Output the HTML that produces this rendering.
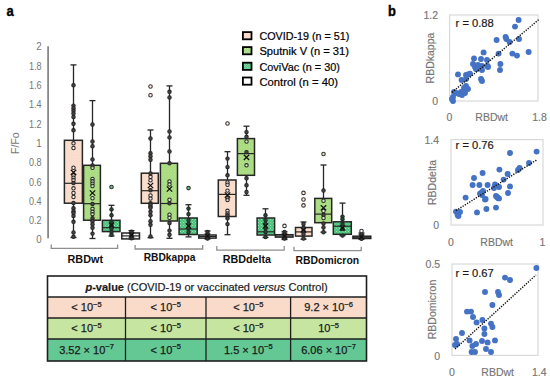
<!DOCTYPE html><html><head><meta charset="utf-8"><style>html,body{margin:0;padding:0;background:#fff;width:550px;height:382px;overflow:hidden}svg{display:block}.h{stroke:currentColor;stroke-width:0.22px}</style></head><body>
<svg width="550" height="382" viewBox="0 0 550 382" font-family='"Liberation Sans", sans-serif'>
<defs>
<pattern id="pc" width="3" height="3" patternUnits="userSpaceOnUse"><rect width="3" height="3" fill="#F9DBC9"/><rect x="0" y="0" width="1" height="1" fill="#FAE2D3"/><rect x="1.5" y="1.5" width="1" height="1" fill="#FAE2D3"/></pattern>
<pattern id="ps" width="3" height="3" patternUnits="userSpaceOnUse"><rect width="3" height="3" fill="#A8DA7E"/><rect x="0" y="0" width="1" height="1" fill="#B8E296"/><rect x="1.5" y="1.5" width="1" height="1" fill="#B8E296"/></pattern>
<pattern id="pv" width="3" height="3" patternUnits="userSpaceOnUse"><rect width="3" height="3" fill="#45C279"/><rect x="0" y="0" width="1" height="1" fill="#9EDFB6"/><rect x="1.5" y="1.5" width="1" height="1" fill="#9EDFB6"/></pattern>
<pattern id="pw" width="3" height="3" patternUnits="userSpaceOnUse"><rect width="3" height="3" fill="#FFFFFF"/><rect x="0" y="0" width="1" height="1" fill="#E0E0E0"/><rect x="1.5" y="1.5" width="1" height="1" fill="#E0E0E0"/></pattern>
<pattern id="Lpc" width="2.4" height="2.4" patternUnits="userSpaceOnUse"><rect width="2.4" height="2.4" fill="#F6CDB3"/><rect x="0" y="0" width="1.2" height="1.2" fill="#FBE9DE"/><rect x="1.2" y="1.2" width="1.2" height="1.2" fill="#FBE9DE"/></pattern>
<pattern id="Lps" width="2.4" height="2.4" patternUnits="userSpaceOnUse"><rect width="2.4" height="2.4" fill="#8CCB5E"/><rect x="0" y="0" width="1.2" height="1.2" fill="#D2EDB9"/><rect x="1.2" y="1.2" width="1.2" height="1.2" fill="#D2EDB9"/></pattern>
<pattern id="Lpv" width="2.4" height="2.4" patternUnits="userSpaceOnUse"><rect width="2.4" height="2.4" fill="#2FB563"/><rect x="0" y="0" width="1.2" height="1.2" fill="#A9E6C0"/><rect x="1.2" y="1.2" width="1.2" height="1.2" fill="#A9E6C0"/></pattern>
<pattern id="Lpw" width="2.4" height="2.4" patternUnits="userSpaceOnUse"><rect width="2.4" height="2.4" fill="#FFFFFF"/><rect x="0" y="0" width="1.2" height="1.2" fill="#FFFFFF"/><rect x="1.2" y="1.2" width="1.2" height="1.2" fill="#FFFFFF"/></pattern>
</defs>
<rect width="550" height="382" fill="#fff"/>
<text transform="translate(6.6,15.7) scale(0.84,1)" font-size="15.5" font-weight="bold" fill="#000" stroke="#000" stroke-width="0.4">a</text>
<text transform="translate(388.0,15.6) scale(0.92,1)" font-size="14" font-weight="bold" fill="#000" stroke="#000" stroke-width="0.4">b</text>
<line x1="48.1" y1="46.2" x2="48.1" y2="238.3" stroke="#888" stroke-width="1.8"/>
<text x="41.6" y="243.4" font-size="10.2" fill="#767676" text-anchor="end" textLength="5.4" lengthAdjust="spacingAndGlyphs">0</text>
<text x="41.6" y="224.1" font-size="10.2" fill="#767676" text-anchor="end" textLength="12.6" lengthAdjust="spacingAndGlyphs">0.2</text>
<text x="41.6" y="204.8" font-size="10.2" fill="#767676" text-anchor="end" textLength="12.6" lengthAdjust="spacingAndGlyphs">0.4</text>
<text x="41.6" y="185.5" font-size="10.2" fill="#767676" text-anchor="end" textLength="12.6" lengthAdjust="spacingAndGlyphs">0.6</text>
<text x="41.6" y="166.2" font-size="10.2" fill="#767676" text-anchor="end" textLength="12.6" lengthAdjust="spacingAndGlyphs">0.8</text>
<text x="41.6" y="146.9" font-size="10.2" fill="#767676" text-anchor="end" textLength="5.4" lengthAdjust="spacingAndGlyphs">1</text>
<text x="41.6" y="127.6" font-size="10.2" fill="#767676" text-anchor="end" textLength="12.6" lengthAdjust="spacingAndGlyphs">1.2</text>
<text x="41.6" y="108.3" font-size="10.2" fill="#767676" text-anchor="end" textLength="12.6" lengthAdjust="spacingAndGlyphs">1.4</text>
<text x="41.6" y="89.0" font-size="10.2" fill="#767676" text-anchor="end" textLength="12.6" lengthAdjust="spacingAndGlyphs">1.6</text>
<text x="41.6" y="69.7" font-size="10.2" fill="#767676" text-anchor="end" textLength="12.6" lengthAdjust="spacingAndGlyphs">1.8</text>
<text x="41.6" y="50.4" font-size="10.2" fill="#767676" text-anchor="end" textLength="5.4" lengthAdjust="spacingAndGlyphs">2</text>
<text transform="translate(19.3,154) rotate(-90)" font-size="11.2" fill="#777" textLength="21.7" lengthAdjust="spacingAndGlyphs">F/Fo</text>
<line x1="73.5" y1="64.9" x2="73.5" y2="237.5" stroke="#262626" stroke-width="1.3"/>
<line x1="70.5" y1="64.9" x2="76.5" y2="64.9" stroke="#262626" stroke-width="1.3"/>
<line x1="70.5" y1="237.5" x2="76.5" y2="237.5" stroke="#262626" stroke-width="1.3"/>
<rect x="64.4" y="140.3" width="18.0" height="62.9" fill="url(#pc)" stroke="#262626" stroke-width="1.5"/>
<line x1="64.4" y1="183.3" x2="82.4" y2="183.3" stroke="#262626" stroke-width="1.2"/>
<circle cx="73.5" cy="85.3" r="1.7" fill="#4d4541" stroke="#262626" stroke-width="1.05"/>
<circle cx="73.5" cy="105.6" r="1.7" fill="#4d4541" stroke="#262626" stroke-width="1.05"/>
<circle cx="73.5" cy="108.2" r="1.7" fill="#4d4541" stroke="#262626" stroke-width="1.05"/>
<circle cx="73.5" cy="110.8" r="1.7" fill="#4d4541" stroke="#262626" stroke-width="1.05"/>
<circle cx="73.5" cy="113.4" r="1.7" fill="#4d4541" stroke="#262626" stroke-width="1.05"/>
<circle cx="73.5" cy="117" r="1.7" fill="#4d4541" stroke="#262626" stroke-width="1.05"/>
<circle cx="73.5" cy="123.8" r="1.7" fill="#4d4541" stroke="#262626" stroke-width="1.05"/>
<circle cx="73.5" cy="130.3" r="1.7" fill="#4d4541" stroke="#262626" stroke-width="1.05"/>
<circle cx="73.5" cy="143.3" r="1.7" fill="rgba(255,255,255,0.55)" stroke="#262626" stroke-width="1.05"/>
<circle cx="73.5" cy="148" r="1.7" fill="rgba(255,255,255,0.55)" stroke="#262626" stroke-width="1.05"/>
<circle cx="73.5" cy="167.7" r="1.7" fill="rgba(255,255,255,0.55)" stroke="#262626" stroke-width="1.05"/>
<circle cx="73.5" cy="175.3" r="1.7" fill="rgba(255,255,255,0.55)" stroke="#262626" stroke-width="1.05"/>
<circle cx="73.5" cy="177.7" r="1.7" fill="rgba(255,255,255,0.55)" stroke="#262626" stroke-width="1.05"/>
<circle cx="73.5" cy="180" r="1.7" fill="rgba(255,255,255,0.55)" stroke="#262626" stroke-width="1.05"/>
<circle cx="73.5" cy="183" r="1.7" fill="#4d4541" stroke="#262626" stroke-width="1.05"/>
<circle cx="73.5" cy="188.3" r="1.7" fill="rgba(255,255,255,0.55)" stroke="#262626" stroke-width="1.05"/>
<circle cx="73.5" cy="193" r="1.7" fill="rgba(255,255,255,0.55)" stroke="#262626" stroke-width="1.05"/>
<circle cx="73.5" cy="197" r="1.7" fill="rgba(255,255,255,0.55)" stroke="#262626" stroke-width="1.05"/>
<circle cx="73.5" cy="203" r="1.7" fill="#4d4541" stroke="#262626" stroke-width="1.05"/>
<circle cx="73.5" cy="208.3" r="1.7" fill="#4d4541" stroke="#262626" stroke-width="1.05"/>
<circle cx="73.5" cy="211.2" r="1.7" fill="#4d4541" stroke="#262626" stroke-width="1.05"/>
<circle cx="73.5" cy="213" r="1.7" fill="#4d4541" stroke="#262626" stroke-width="1.05"/>
<circle cx="73.5" cy="215.9" r="1.7" fill="#4d4541" stroke="#262626" stroke-width="1.05"/>
<circle cx="73.5" cy="221.8" r="1.7" fill="#4d4541" stroke="#262626" stroke-width="1.05"/>
<circle cx="73.5" cy="232.4" r="1.7" fill="#4d4541" stroke="#262626" stroke-width="1.05"/>
<circle cx="73.5" cy="236.8" r="1.7" fill="#4d4541" stroke="#262626" stroke-width="1.05"/>
<path d="M70.8 169.8L76.2 175.0M76.2 169.8L70.8 175.0" stroke="#111" stroke-width="1.3"/>
<line x1="92.5" y1="100.6" x2="92.5" y2="238.5" stroke="#262626" stroke-width="1.3"/>
<line x1="89.5" y1="100.6" x2="95.5" y2="100.6" stroke="#262626" stroke-width="1.3"/>
<line x1="89.5" y1="238.5" x2="95.5" y2="238.5" stroke="#262626" stroke-width="1.3"/>
<rect x="83.6" y="165.3" width="16.8" height="54.9" fill="url(#ps)" stroke="#262626" stroke-width="1.5"/>
<line x1="83.6" y1="203.7" x2="100.4" y2="203.7" stroke="#262626" stroke-width="1.2"/>
<circle cx="92.5" cy="124.4" r="1.7" fill="#4d4541" stroke="#262626" stroke-width="1.05"/>
<circle cx="92.5" cy="141.5" r="1.7" fill="#4d4541" stroke="#262626" stroke-width="1.05"/>
<circle cx="92.5" cy="146.2" r="1.7" fill="#4d4541" stroke="#262626" stroke-width="1.05"/>
<circle cx="92.5" cy="159.4" r="1.7" fill="#4d4541" stroke="#262626" stroke-width="1.05"/>
<circle cx="92.5" cy="165.5" r="1.7" fill="#4d4541" stroke="#262626" stroke-width="1.05"/>
<circle cx="92.5" cy="167.7" r="1.7" fill="rgba(255,255,255,0.55)" stroke="#262626" stroke-width="1.05"/>
<circle cx="92.5" cy="178.9" r="1.7" fill="rgba(255,255,255,0.55)" stroke="#262626" stroke-width="1.05"/>
<circle cx="92.5" cy="181.2" r="1.7" fill="rgba(255,255,255,0.55)" stroke="#262626" stroke-width="1.05"/>
<circle cx="92.5" cy="183.6" r="1.7" fill="rgba(255,255,255,0.55)" stroke="#262626" stroke-width="1.05"/>
<circle cx="92.5" cy="186" r="1.7" fill="rgba(255,255,255,0.55)" stroke="#262626" stroke-width="1.05"/>
<circle cx="92.5" cy="198.2" r="1.7" fill="rgba(255,255,255,0.55)" stroke="#262626" stroke-width="1.05"/>
<circle cx="92.5" cy="203.9" r="1.7" fill="#4d4541" stroke="#262626" stroke-width="1.05"/>
<circle cx="92.5" cy="208.8" r="1.7" fill="rgba(255,255,255,0.55)" stroke="#262626" stroke-width="1.05"/>
<circle cx="92.5" cy="211.8" r="1.7" fill="rgba(255,255,255,0.55)" stroke="#262626" stroke-width="1.05"/>
<circle cx="92.5" cy="214.1" r="1.7" fill="rgba(255,255,255,0.55)" stroke="#262626" stroke-width="1.05"/>
<circle cx="92.5" cy="218.3" r="1.7" fill="#4d4541" stroke="#262626" stroke-width="1.05"/>
<circle cx="92.5" cy="221.2" r="1.7" fill="#4d4541" stroke="#262626" stroke-width="1.05"/>
<circle cx="92.5" cy="224.2" r="1.7" fill="#4d4541" stroke="#262626" stroke-width="1.05"/>
<circle cx="92.5" cy="227.7" r="1.7" fill="#4d4541" stroke="#262626" stroke-width="1.05"/>
<circle cx="92.5" cy="233.6" r="1.7" fill="#4d4541" stroke="#262626" stroke-width="1.05"/>
<path d="M89.8 190.4L95.2 195.6M95.2 190.4L89.8 195.6" stroke="#111" stroke-width="1.3"/>
<line x1="111.5" y1="205.3" x2="111.5" y2="236" stroke="#262626" stroke-width="1.3"/>
<line x1="108.5" y1="205.3" x2="114.5" y2="205.3" stroke="#262626" stroke-width="1.3"/>
<line x1="108.5" y1="236" x2="114.5" y2="236" stroke="#262626" stroke-width="1.3"/>
<rect x="102.4" y="220.3" width="17.6" height="11.3" fill="url(#pv)" stroke="#262626" stroke-width="1.5"/>
<line x1="102.4" y1="227.7" x2="120" y2="227.7" stroke="#262626" stroke-width="1.2"/>
<circle cx="111.5" cy="209.4" r="1.7" fill="#1d4a30" stroke="#262626" stroke-width="1.05"/>
<circle cx="111.5" cy="215.3" r="1.7" fill="#1d4a30" stroke="#262626" stroke-width="1.05"/>
<circle cx="111.5" cy="221.8" r="1.7" fill="#1d4a30" stroke="#262626" stroke-width="1.05"/>
<circle cx="111.5" cy="225.3" r="1.7" fill="#1d4a30" stroke="#262626" stroke-width="1.05"/>
<circle cx="111.5" cy="228.5" r="1.7" fill="#1d4a30" stroke="#262626" stroke-width="1.05"/>
<circle cx="111.5" cy="231.8" r="1.7" fill="#1d4a30" stroke="#262626" stroke-width="1.05"/>
<circle cx="111.5" cy="234.7" r="1.7" fill="#1d4a30" stroke="#262626" stroke-width="1.05"/>
<path d="M108.8 222.4L114.2 227.6M114.2 222.4L108.8 227.6" stroke="#111" stroke-width="1.3"/>
<circle cx="111.5" cy="187" r="1.75" fill="#5BC98A" stroke="#3a3230" stroke-width="1.1"/>
<line x1="131.5" y1="230.6" x2="131.5" y2="238.9" stroke="#262626" stroke-width="1.3"/>
<line x1="128.5" y1="230.6" x2="134.5" y2="230.6" stroke="#262626" stroke-width="1.3"/>
<line x1="128.5" y1="238.9" x2="134.5" y2="238.9" stroke="#262626" stroke-width="1.3"/>
<rect x="121.8" y="233" width="17.7" height="5.9" fill="url(#pw)" stroke="#262626" stroke-width="1.5"/>
<line x1="121.8" y1="235.9" x2="139.5" y2="235.9" stroke="#262626" stroke-width="1.2"/>
<circle cx="131.5" cy="231.6" r="1.7" fill="#333" stroke="#262626" stroke-width="1.05"/>
<circle cx="131.5" cy="235" r="1.7" fill="#333" stroke="#262626" stroke-width="1.05"/>
<circle cx="131.5" cy="238.3" r="1.7" fill="#333" stroke="#262626" stroke-width="1.05"/>
<path d="M128.8 232.4L134.2 237.6M134.2 232.4L128.8 237.6" stroke="#111" stroke-width="1.3"/>
<line x1="150.5" y1="130" x2="150.5" y2="237.7" stroke="#262626" stroke-width="1.3"/>
<line x1="147.5" y1="130" x2="153.5" y2="130" stroke="#262626" stroke-width="1.3"/>
<line x1="147.5" y1="237.7" x2="153.5" y2="237.7" stroke="#262626" stroke-width="1.3"/>
<rect x="141.3" y="173.2" width="17.0" height="30.1" fill="url(#pc)" stroke="#262626" stroke-width="1.5"/>
<line x1="141.3" y1="190.7" x2="158.3" y2="190.7" stroke="#262626" stroke-width="1.2"/>
<circle cx="150.5" cy="138.5" r="1.7" fill="#4d4541" stroke="#262626" stroke-width="1.05"/>
<circle cx="150.5" cy="153.3" r="1.7" fill="#4d4541" stroke="#262626" stroke-width="1.05"/>
<circle cx="150.5" cy="156.2" r="1.7" fill="#4d4541" stroke="#262626" stroke-width="1.05"/>
<circle cx="150.5" cy="159.7" r="1.7" fill="#4d4541" stroke="#262626" stroke-width="1.05"/>
<circle cx="150.5" cy="173.5" r="1.7" fill="#4d4541" stroke="#262626" stroke-width="1.05"/>
<circle cx="150.5" cy="176.8" r="1.7" fill="rgba(255,255,255,0.55)" stroke="#262626" stroke-width="1.05"/>
<circle cx="150.5" cy="180.3" r="1.7" fill="rgba(255,255,255,0.55)" stroke="#262626" stroke-width="1.05"/>
<circle cx="150.5" cy="190.3" r="1.7" fill="#4d4541" stroke="#262626" stroke-width="1.05"/>
<circle cx="150.5" cy="195.4" r="1.7" fill="rgba(255,255,255,0.55)" stroke="#262626" stroke-width="1.05"/>
<circle cx="150.5" cy="198.6" r="1.7" fill="rgba(255,255,255,0.55)" stroke="#262626" stroke-width="1.05"/>
<circle cx="150.5" cy="203.3" r="1.7" fill="#4d4541" stroke="#262626" stroke-width="1.05"/>
<circle cx="150.5" cy="206.8" r="1.7" fill="#4d4541" stroke="#262626" stroke-width="1.05"/>
<circle cx="150.5" cy="204.7" r="1.7" fill="#4d4541" stroke="#262626" stroke-width="1.05"/>
<circle cx="150.5" cy="207.7" r="1.7" fill="#4d4541" stroke="#262626" stroke-width="1.05"/>
<circle cx="150.5" cy="211.8" r="1.7" fill="#4d4541" stroke="#262626" stroke-width="1.05"/>
<circle cx="150.5" cy="215.3" r="1.7" fill="#4d4541" stroke="#262626" stroke-width="1.05"/>
<circle cx="150.5" cy="221.2" r="1.7" fill="#4d4541" stroke="#262626" stroke-width="1.05"/>
<circle cx="150.5" cy="224.7" r="1.7" fill="#4d4541" stroke="#262626" stroke-width="1.05"/>
<circle cx="150.5" cy="236.4" r="1.7" fill="#4d4541" stroke="#262626" stroke-width="1.05"/>
<path d="M147.8 182.9L153.2 188.1M153.2 182.9L147.8 188.1" stroke="#111" stroke-width="1.3"/>
<circle cx="150.5" cy="86.5" r="1.75" fill="#FFF4EE" stroke="#3a3230" stroke-width="1.1"/>
<circle cx="150.5" cy="95.3" r="1.75" fill="#FFF4EE" stroke="#3a3230" stroke-width="1.1"/>
<line x1="169.5" y1="85.9" x2="169.5" y2="238.3" stroke="#262626" stroke-width="1.3"/>
<line x1="166.5" y1="85.9" x2="172.5" y2="85.9" stroke="#262626" stroke-width="1.3"/>
<line x1="166.5" y1="238.3" x2="172.5" y2="238.3" stroke="#262626" stroke-width="1.3"/>
<rect x="160.4" y="163.3" width="17.1" height="57.7" fill="url(#ps)" stroke="#262626" stroke-width="1.5"/>
<line x1="160.4" y1="203.5" x2="177.5" y2="203.5" stroke="#262626" stroke-width="1.2"/>
<circle cx="169.5" cy="91.8" r="1.7" fill="#4d4541" stroke="#262626" stroke-width="1.05"/>
<circle cx="169.5" cy="97.4" r="1.7" fill="#4d4541" stroke="#262626" stroke-width="1.05"/>
<circle cx="169.5" cy="131.5" r="1.7" fill="#4d4541" stroke="#262626" stroke-width="1.05"/>
<circle cx="169.5" cy="137.4" r="1.7" fill="#4d4541" stroke="#262626" stroke-width="1.05"/>
<circle cx="169.5" cy="151.5" r="1.7" fill="#4d4541" stroke="#262626" stroke-width="1.05"/>
<circle cx="169.5" cy="163.3" r="1.7" fill="#4d4541" stroke="#262626" stroke-width="1.05"/>
<circle cx="169.5" cy="181.5" r="1.7" fill="rgba(255,255,255,0.55)" stroke="#262626" stroke-width="1.05"/>
<circle cx="169.5" cy="184.4" r="1.7" fill="rgba(255,255,255,0.55)" stroke="#262626" stroke-width="1.05"/>
<circle cx="169.5" cy="199.7" r="1.7" fill="rgba(255,255,255,0.55)" stroke="#262626" stroke-width="1.05"/>
<circle cx="169.5" cy="203.3" r="1.7" fill="#4d4541" stroke="#262626" stroke-width="1.05"/>
<circle cx="169.5" cy="214.7" r="1.7" fill="rgba(255,255,255,0.55)" stroke="#262626" stroke-width="1.05"/>
<circle cx="169.5" cy="217.7" r="1.7" fill="rgba(255,255,255,0.55)" stroke="#262626" stroke-width="1.05"/>
<circle cx="169.5" cy="223" r="1.7" fill="#4d4541" stroke="#262626" stroke-width="1.05"/>
<circle cx="169.5" cy="230.6" r="1.7" fill="#4d4541" stroke="#262626" stroke-width="1.05"/>
<circle cx="169.5" cy="234.7" r="1.7" fill="#4d4541" stroke="#262626" stroke-width="1.05"/>
<path d="M166.8 186.4L172.2 191.6M172.2 186.4L166.8 191.6" stroke="#111" stroke-width="1.3"/>
<line x1="188.5" y1="204.7" x2="188.5" y2="236.9" stroke="#262626" stroke-width="1.3"/>
<line x1="185.5" y1="204.7" x2="191.5" y2="204.7" stroke="#262626" stroke-width="1.3"/>
<line x1="185.5" y1="236.9" x2="191.5" y2="236.9" stroke="#262626" stroke-width="1.3"/>
<rect x="179.1" y="218" width="18.1" height="16.5" fill="url(#pv)" stroke="#262626" stroke-width="1.5"/>
<line x1="179.1" y1="229" x2="197.2" y2="229" stroke="#262626" stroke-width="1.2"/>
<circle cx="188.5" cy="208.6" r="1.7" fill="#1d4a30" stroke="#262626" stroke-width="1.05"/>
<circle cx="188.5" cy="214.1" r="1.7" fill="#1d4a30" stroke="#262626" stroke-width="1.05"/>
<circle cx="188.5" cy="220" r="1.7" fill="#1d4a30" stroke="#262626" stroke-width="1.05"/>
<circle cx="188.5" cy="224" r="1.7" fill="#1d4a30" stroke="#262626" stroke-width="1.05"/>
<circle cx="188.5" cy="228" r="1.7" fill="#1d4a30" stroke="#262626" stroke-width="1.05"/>
<circle cx="188.5" cy="232" r="1.7" fill="#1d4a30" stroke="#262626" stroke-width="1.05"/>
<path d="M185.8 223.4L191.2 228.6M191.2 223.4L185.8 228.6" stroke="#111" stroke-width="1.3"/>
<circle cx="188.5" cy="188.1" r="1.75" fill="#5BC98A" stroke="#3a3230" stroke-width="1.1"/>
<line x1="207.5" y1="231" x2="207.5" y2="239" stroke="#262626" stroke-width="1.3"/>
<line x1="204.5" y1="231" x2="210.5" y2="231" stroke="#262626" stroke-width="1.3"/>
<line x1="204.5" y1="239" x2="210.5" y2="239" stroke="#262626" stroke-width="1.3"/>
<rect x="198.8" y="235" width="17.3" height="3.1" fill="url(#pw)" stroke="#262626" stroke-width="1.5"/>
<line x1="198.8" y1="236.5" x2="216.1" y2="236.5" stroke="#262626" stroke-width="1.2"/>
<circle cx="207.5" cy="232" r="1.7" fill="#333" stroke="#262626" stroke-width="1.05"/>
<circle cx="207.5" cy="235.5" r="1.7" fill="#333" stroke="#262626" stroke-width="1.05"/>
<circle cx="207.5" cy="238.5" r="1.7" fill="#333" stroke="#262626" stroke-width="1.05"/>
<path d="M204.8 233.4L210.2 238.6M210.2 233.4L204.8 238.6" stroke="#111" stroke-width="1.3"/>
<line x1="227.5" y1="151.7" x2="227.5" y2="234.7" stroke="#262626" stroke-width="1.3"/>
<line x1="224.5" y1="151.7" x2="230.5" y2="151.7" stroke="#262626" stroke-width="1.3"/>
<line x1="224.5" y1="234.7" x2="230.5" y2="234.7" stroke="#262626" stroke-width="1.3"/>
<rect x="218.3" y="180" width="17.7" height="36.5" fill="url(#pc)" stroke="#262626" stroke-width="1.5"/>
<line x1="218.3" y1="194.4" x2="236" y2="194.4" stroke="#262626" stroke-width="1.2"/>
<circle cx="227.5" cy="158.6" r="1.7" fill="#4d4541" stroke="#262626" stroke-width="1.05"/>
<circle cx="227.5" cy="167.1" r="1.7" fill="#4d4541" stroke="#262626" stroke-width="1.05"/>
<circle cx="227.5" cy="175.3" r="1.7" fill="#4d4541" stroke="#262626" stroke-width="1.05"/>
<circle cx="227.5" cy="182.4" r="1.7" fill="rgba(255,255,255,0.55)" stroke="#262626" stroke-width="1.05"/>
<circle cx="227.5" cy="184.7" r="1.7" fill="rgba(255,255,255,0.55)" stroke="#262626" stroke-width="1.05"/>
<circle cx="227.5" cy="190.6" r="1.7" fill="rgba(255,255,255,0.55)" stroke="#262626" stroke-width="1.05"/>
<circle cx="227.5" cy="198.3" r="1.7" fill="rgba(255,255,255,0.55)" stroke="#262626" stroke-width="1.05"/>
<circle cx="227.5" cy="200" r="1.7" fill="rgba(255,255,255,0.55)" stroke="#262626" stroke-width="1.05"/>
<circle cx="227.5" cy="210.8" r="1.7" fill="rgba(255,255,255,0.55)" stroke="#262626" stroke-width="1.05"/>
<circle cx="227.5" cy="213.5" r="1.7" fill="rgba(255,255,255,0.55)" stroke="#262626" stroke-width="1.05"/>
<circle cx="227.5" cy="215.3" r="1.7" fill="#4d4541" stroke="#262626" stroke-width="1.05"/>
<circle cx="227.5" cy="218.3" r="1.7" fill="#4d4541" stroke="#262626" stroke-width="1.05"/>
<circle cx="227.5" cy="224.1" r="1.7" fill="#4d4541" stroke="#262626" stroke-width="1.05"/>
<path d="M224.8 192.4L230.2 197.6M230.2 192.4L224.8 197.6" stroke="#111" stroke-width="1.3"/>
<circle cx="227.5" cy="123.5" r="1.75" fill="#FFF4EE" stroke="#3a3230" stroke-width="1.1"/>
<line x1="246.5" y1="126.2" x2="246.5" y2="195.3" stroke="#262626" stroke-width="1.3"/>
<line x1="243.5" y1="126.2" x2="249.5" y2="126.2" stroke="#262626" stroke-width="1.3"/>
<line x1="243.5" y1="195.3" x2="249.5" y2="195.3" stroke="#262626" stroke-width="1.3"/>
<rect x="237.4" y="138.6" width="17.1" height="36.7" fill="url(#ps)" stroke="#262626" stroke-width="1.5"/>
<line x1="237.4" y1="153.6" x2="254.5" y2="153.6" stroke="#262626" stroke-width="1.2"/>
<circle cx="246.5" cy="132.1" r="1.7" fill="#4d4541" stroke="#262626" stroke-width="1.05"/>
<circle cx="246.5" cy="136.8" r="1.7" fill="#4d4541" stroke="#262626" stroke-width="1.05"/>
<circle cx="246.5" cy="141.5" r="1.7" fill="rgba(255,255,255,0.55)" stroke="#262626" stroke-width="1.05"/>
<circle cx="246.5" cy="152.1" r="1.7" fill="#4d4541" stroke="#262626" stroke-width="1.05"/>
<circle cx="246.5" cy="165.3" r="1.7" fill="rgba(255,255,255,0.55)" stroke="#262626" stroke-width="1.05"/>
<circle cx="246.5" cy="178.3" r="1.7" fill="#4d4541" stroke="#262626" stroke-width="1.05"/>
<circle cx="246.5" cy="185.3" r="1.7" fill="#4d4541" stroke="#262626" stroke-width="1.05"/>
<circle cx="246.5" cy="192" r="1.7" fill="#4d4541" stroke="#262626" stroke-width="1.05"/>
<path d="M243.8 154.8L249.2 160.0M249.2 154.8L243.8 160.0" stroke="#111" stroke-width="1.3"/>
<line x1="265.5" y1="208.8" x2="265.5" y2="237.5" stroke="#262626" stroke-width="1.3"/>
<line x1="262.5" y1="208.8" x2="268.5" y2="208.8" stroke="#262626" stroke-width="1.3"/>
<line x1="262.5" y1="237.5" x2="268.5" y2="237.5" stroke="#262626" stroke-width="1.3"/>
<rect x="257.1" y="218" width="17.5" height="17.0" fill="url(#pv)" stroke="#262626" stroke-width="1.5"/>
<line x1="257.1" y1="231.8" x2="274.6" y2="231.8" stroke="#262626" stroke-width="1.2"/>
<circle cx="265.5" cy="215.3" r="1.7" fill="#1d4a30" stroke="#262626" stroke-width="1.05"/>
<circle cx="265.5" cy="220" r="1.7" fill="#1d4a30" stroke="#262626" stroke-width="1.05"/>
<circle cx="265.5" cy="224" r="1.7" fill="#1d4a30" stroke="#262626" stroke-width="1.05"/>
<circle cx="265.5" cy="228" r="1.7" fill="#1d4a30" stroke="#262626" stroke-width="1.05"/>
<circle cx="265.5" cy="232" r="1.7" fill="#1d4a30" stroke="#262626" stroke-width="1.05"/>
<circle cx="265.5" cy="237" r="1.7" fill="#1d4a30" stroke="#262626" stroke-width="1.05"/>
<path d="M262.8 223.4L268.2 228.6M268.2 223.4L262.8 228.6" stroke="#111" stroke-width="1.3"/>
<line x1="284.5" y1="231.8" x2="284.5" y2="239.5" stroke="#262626" stroke-width="1.3"/>
<line x1="281.5" y1="231.8" x2="287.5" y2="231.8" stroke="#262626" stroke-width="1.3"/>
<line x1="281.5" y1="239.5" x2="287.5" y2="239.5" stroke="#262626" stroke-width="1.3"/>
<rect x="275.4" y="234.7" width="17.6" height="2.4" fill="url(#pw)" stroke="#262626" stroke-width="1.5"/>
<line x1="275.4" y1="236" x2="293" y2="236" stroke="#262626" stroke-width="1.2"/>
<circle cx="284.5" cy="232" r="1.7" fill="#333" stroke="#262626" stroke-width="1.05"/>
<circle cx="284.5" cy="235" r="1.7" fill="#333" stroke="#262626" stroke-width="1.05"/>
<circle cx="284.5" cy="238.5" r="1.7" fill="#333" stroke="#262626" stroke-width="1.05"/>
<path d="M281.8 233.4L287.2 238.6M287.2 233.4L281.8 238.6" stroke="#111" stroke-width="1.3"/>
<circle cx="284.5" cy="225.9" r="1.75" fill="#fff" stroke="#3a3230" stroke-width="1.1"/>
<line x1="303.5" y1="222" x2="303.5" y2="239.2" stroke="#262626" stroke-width="1.3"/>
<line x1="300.5" y1="222" x2="306.5" y2="222" stroke="#262626" stroke-width="1.3"/>
<line x1="300.5" y1="239.2" x2="306.5" y2="239.2" stroke="#262626" stroke-width="1.3"/>
<rect x="295.5" y="227.5" width="16.5" height="8.6" fill="url(#pc)" stroke="#262626" stroke-width="1.5"/>
<line x1="295.5" y1="231.9" x2="312" y2="231.9" stroke="#262626" stroke-width="1.2"/>
<circle cx="303.5" cy="224" r="1.7" fill="#4d4541" stroke="#262626" stroke-width="1.05"/>
<circle cx="303.5" cy="228" r="1.7" fill="#4d4541" stroke="#262626" stroke-width="1.05"/>
<circle cx="303.5" cy="231" r="1.7" fill="#4d4541" stroke="#262626" stroke-width="1.05"/>
<circle cx="303.5" cy="234" r="1.7" fill="#4d4541" stroke="#262626" stroke-width="1.05"/>
<circle cx="303.5" cy="238.5" r="1.7" fill="#4d4541" stroke="#262626" stroke-width="1.05"/>
<path d="M300.8 227.4L306.2 232.6M306.2 227.4L300.8 232.6" stroke="#111" stroke-width="1.3"/>
<circle cx="303.5" cy="192.9" r="1.75" fill="#FFF4EE" stroke="#3a3230" stroke-width="1.1"/>
<circle cx="303.5" cy="199.5" r="1.75" fill="#FFF4EE" stroke="#3a3230" stroke-width="1.1"/>
<circle cx="303.5" cy="205.4" r="1.75" fill="#FFF4EE" stroke="#3a3230" stroke-width="1.1"/>
<line x1="323.5" y1="165" x2="323.5" y2="232.2" stroke="#262626" stroke-width="1.3"/>
<line x1="320.5" y1="165" x2="326.5" y2="165" stroke="#262626" stroke-width="1.3"/>
<line x1="320.5" y1="232.2" x2="326.5" y2="232.2" stroke="#262626" stroke-width="1.3"/>
<rect x="314.8" y="198.4" width="16.9" height="24.3" fill="url(#ps)" stroke="#262626" stroke-width="1.5"/>
<line x1="314.8" y1="214.1" x2="331.7" y2="214.1" stroke="#262626" stroke-width="1.2"/>
<circle cx="323.5" cy="190.5" r="1.7" fill="#4d4541" stroke="#262626" stroke-width="1.05"/>
<circle cx="323.5" cy="200.7" r="1.7" fill="rgba(255,255,255,0.55)" stroke="#262626" stroke-width="1.05"/>
<circle cx="323.5" cy="211" r="1.7" fill="rgba(255,255,255,0.55)" stroke="#262626" stroke-width="1.05"/>
<circle cx="323.5" cy="214.9" r="1.7" fill="#4d4541" stroke="#262626" stroke-width="1.05"/>
<circle cx="323.5" cy="218" r="1.7" fill="rgba(255,255,255,0.55)" stroke="#262626" stroke-width="1.05"/>
<circle cx="323.5" cy="223.5" r="1.7" fill="#4d4541" stroke="#262626" stroke-width="1.05"/>
<circle cx="323.5" cy="227.5" r="1.7" fill="#4d4541" stroke="#262626" stroke-width="1.05"/>
<circle cx="323.5" cy="232.2" r="1.7" fill="#4d4541" stroke="#262626" stroke-width="1.05"/>
<path d="M320.8 205.2L326.2 210.4M326.2 205.2L320.8 210.4" stroke="#111" stroke-width="1.3"/>
<circle cx="323.5" cy="154" r="1.75" fill="#D2EDB5" stroke="#3a3230" stroke-width="1.1"/>
<line x1="342.5" y1="203.1" x2="342.5" y2="235.6" stroke="#262626" stroke-width="1.3"/>
<line x1="339.5" y1="203.1" x2="345.5" y2="203.1" stroke="#262626" stroke-width="1.3"/>
<line x1="339.5" y1="235.6" x2="345.5" y2="235.6" stroke="#262626" stroke-width="1.3"/>
<rect x="333.3" y="221.8" width="18.0" height="12.5" fill="url(#pv)" stroke="#262626" stroke-width="1.5"/>
<line x1="333.3" y1="226.2" x2="351.3" y2="226.2" stroke="#262626" stroke-width="1.2"/>
<circle cx="342.5" cy="216.6" r="1.7" fill="#1d4a30" stroke="#262626" stroke-width="1.05"/>
<circle cx="342.5" cy="219.2" r="1.7" fill="#1d4a30" stroke="#262626" stroke-width="1.05"/>
<circle cx="342.5" cy="224" r="1.7" fill="#1d4a30" stroke="#262626" stroke-width="1.05"/>
<circle cx="342.5" cy="229" r="1.7" fill="#1d4a30" stroke="#262626" stroke-width="1.05"/>
<circle cx="342.5" cy="235.6" r="1.7" fill="#1d4a30" stroke="#262626" stroke-width="1.05"/>
<path d="M339.8 225.4L345.2 230.6M345.2 225.4L339.8 230.6" stroke="#111" stroke-width="1.3"/>
<line x1="361.5" y1="233" x2="361.5" y2="238.8" stroke="#262626" stroke-width="1.3"/>
<line x1="358.5" y1="233" x2="364.5" y2="233" stroke="#262626" stroke-width="1.3"/>
<line x1="358.5" y1="238.8" x2="364.5" y2="238.8" stroke="#262626" stroke-width="1.3"/>
<rect x="352.9" y="236.2" width="17.9" height="2.3" fill="url(#pw)" stroke="#262626" stroke-width="1.5"/>
<line x1="352.9" y1="237.3" x2="370.8" y2="237.3" stroke="#262626" stroke-width="1.2"/>
<circle cx="361.5" cy="234" r="1.7" fill="#333" stroke="#262626" stroke-width="1.05"/>
<circle cx="361.5" cy="238.8" r="1.7" fill="#333" stroke="#262626" stroke-width="1.05"/>
<path d="M358.8 234.4L364.2 239.6M364.2 234.4L358.8 239.6" stroke="#111" stroke-width="1.3"/>
<circle cx="361.5" cy="231" r="1.75" fill="#fff" stroke="#3a3230" stroke-width="1.1"/>
<path d="M51.2 244.4V248.3H117.6V244.4" fill="none" stroke="#8f8f8f" stroke-width="1.3"/>
<path d="M135.1 244.9V249H202.7V244.9" fill="none" stroke="#8f8f8f" stroke-width="1.3"/>
<path d="M216.8 246V250.1H284.2V246" fill="none" stroke="#8f8f8f" stroke-width="1.3"/>
<path d="M294 246.7V250.6H361.2V246.7" fill="none" stroke="#8f8f8f" stroke-width="1.3"/>
<text x="67.5" y="262.8" font-size="11" font-weight="bold" fill="#111" textLength="35.5" lengthAdjust="spacingAndGlyphs">RBDwt</text>
<text x="143.7" y="261.3" font-size="11" font-weight="bold" fill="#111" textLength="51.7" lengthAdjust="spacingAndGlyphs">RBDkappa</text>
<text x="222.7" y="263.2" font-size="11" font-weight="bold" fill="#111" textLength="48.3" lengthAdjust="spacingAndGlyphs">RBDdelta</text>
<text x="295.5" y="264" font-size="11" font-weight="bold" fill="#111" textLength="63.6" lengthAdjust="spacingAndGlyphs">RBDomicron</text>
<rect x="242.9" y="32.1" width="8.6" height="7.2" fill="url(#Lpc)" stroke="#000" stroke-width="1.8"/>
<text x="259.4" y="39.7" font-size="10.8" fill="#000" stroke="#000" stroke-width="0.2" textLength="90" lengthAdjust="spacingAndGlyphs">COVID-19 (n = 51)</text>
<rect x="242.9" y="47.1" width="8.6" height="7.2" fill="url(#Lps)" stroke="#000" stroke-width="1.8"/>
<text x="259.4" y="55.1" font-size="10.8" fill="#000" stroke="#000" stroke-width="0.2" textLength="89.6" lengthAdjust="spacingAndGlyphs">Sputnik V (n = 31)</text>
<rect x="242.9" y="62.7" width="8.6" height="7.2" fill="url(#Lpv)" stroke="#000" stroke-width="1.8"/>
<text x="259.4" y="70.5" font-size="10.8" fill="#000" stroke="#000" stroke-width="0.2" textLength="80.6" lengthAdjust="spacingAndGlyphs">CoviVac (n = 30)</text>
<rect x="242.9" y="77.5" width="8.6" height="7.2" fill="url(#Lpw)" stroke="#000" stroke-width="1.8"/>
<text x="259.4" y="85.9" font-size="10.8" fill="#000" stroke="#000" stroke-width="0.2" textLength="78.6" lengthAdjust="spacingAndGlyphs">Control (n = 40)</text>
<rect x="47.5" y="276" width="319.0" height="21" fill="#FFFFFF"/>
<rect x="47.5" y="297" width="319.0" height="21" fill="#FADBCA"/>
<rect x="47.5" y="318" width="319.0" height="21" fill="#C6E5A0"/>
<rect x="47.5" y="339" width="319.0" height="22" fill="#63C894"/>
<line x1="47.5" y1="297" x2="366.5" y2="297" stroke="#1e1e1e" stroke-width="1.3"/>
<line x1="47.5" y1="318" x2="366.5" y2="318" stroke="#1e1e1e" stroke-width="1.3"/>
<line x1="47.5" y1="339" x2="366.5" y2="339" stroke="#1e1e1e" stroke-width="1.3"/>
<line x1="125.5" y1="297" x2="125.5" y2="361" stroke="#1e1e1e" stroke-width="1.3"/>
<line x1="206" y1="297" x2="206" y2="361" stroke="#1e1e1e" stroke-width="1.3"/>
<line x1="290.6" y1="297" x2="290.6" y2="361" stroke="#1e1e1e" stroke-width="1.3"/>
<rect x="47.5" y="276" width="319.0" height="85" fill="none" stroke="#1e1e1e" stroke-width="1.6"/>
<text x="206.5" y="290.6" font-size="11" fill="#1a1a1a" stroke="#1a1a1a" stroke-width="0.2" text-anchor="middle"><tspan font-weight="bold" font-style="italic">p</tspan><tspan font-weight="bold">-value</tspan> (COVID-19 or vaccinated <tspan font-style="italic">versus</tspan> Control)</text>
<text x="86.5" y="311.4" font-size="11" fill="#1a1a1a" stroke="#1a1a1a" stroke-width="0.25" text-anchor="middle">< 10<tspan font-size="7.5" dy="-4.2">&#8722;5</tspan></text>
<text x="165.75" y="311.4" font-size="11" fill="#1a1a1a" stroke="#1a1a1a" stroke-width="0.25" text-anchor="middle">< 10<tspan font-size="7.5" dy="-4.2">&#8722;5</tspan></text>
<text x="248.3" y="311.4" font-size="11" fill="#1a1a1a" stroke="#1a1a1a" stroke-width="0.25" text-anchor="middle">< 10<tspan font-size="7.5" dy="-4.2">&#8722;5</tspan></text>
<text x="328.55" y="311.4" font-size="11" fill="#1a1a1a" stroke="#1a1a1a" stroke-width="0.25" text-anchor="middle">9.2 × 10<tspan font-size="7.5" dy="-4.2">&#8722;6</tspan></text>
<text x="86.5" y="332.4" font-size="11" fill="#1a1a1a" stroke="#1a1a1a" stroke-width="0.25" text-anchor="middle">< 10<tspan font-size="7.5" dy="-4.2">&#8722;5</tspan></text>
<text x="165.75" y="332.4" font-size="11" fill="#1a1a1a" stroke="#1a1a1a" stroke-width="0.25" text-anchor="middle">< 10<tspan font-size="7.5" dy="-4.2">&#8722;5</tspan></text>
<text x="248.3" y="332.4" font-size="11" fill="#1a1a1a" stroke="#1a1a1a" stroke-width="0.25" text-anchor="middle">< 10<tspan font-size="7.5" dy="-4.2">&#8722;5</tspan></text>
<text x="328.55" y="332.4" font-size="11" fill="#1a1a1a" stroke="#1a1a1a" stroke-width="0.25" text-anchor="middle">10<tspan font-size="7.5" dy="-4.2">&#8722;5</tspan></text>
<text x="86.5" y="353.6" font-size="11" fill="#1a1a1a" stroke="#1a1a1a" stroke-width="0.25" text-anchor="middle">3.52 × 10<tspan font-size="7.5" dy="-4.2">&#8722;7</tspan></text>
<text x="165.75" y="353.6" font-size="11" fill="#1a1a1a" stroke="#1a1a1a" stroke-width="0.25" text-anchor="middle">< 10<tspan font-size="7.5" dy="-4.2">&#8722;5</tspan></text>
<text x="248.3" y="353.6" font-size="11" fill="#1a1a1a" stroke="#1a1a1a" stroke-width="0.25" text-anchor="middle">1.5 × 10<tspan font-size="7.5" dy="-4.2">&#8722;5</tspan></text>
<text x="328.55" y="353.6" font-size="11" fill="#1a1a1a" stroke="#1a1a1a" stroke-width="0.25" text-anchor="middle">6.06 × 10<tspan font-size="7.5" dy="-4.2">&#8722;7</tspan></text>
<rect x="449.6" y="15" width="88.4" height="86.0" fill="#fff" stroke="#d9d9d9" stroke-width="1.2"/>
<text x="438" y="19.4" font-size="10.5" fill="#767676" stroke="#767676" stroke-width="0.15" text-anchor="end">1.2</text>
<text x="438" y="105" font-size="10.5" fill="#767676" stroke="#767676" stroke-width="0.15" text-anchor="end">0</text>
<text x="449.5" y="121" font-size="10.5" fill="#767676" stroke="#767676" stroke-width="0.15" text-anchor="middle">0</text>
<text x="491.7" y="121" font-size="10.5" fill="#767676" stroke="#767676" stroke-width="0.15" text-anchor="middle">RBDwt</text>
<text x="539.5" y="121" font-size="10.5" fill="#767676" stroke="#767676" stroke-width="0.15" text-anchor="middle">1.8</text>
<text transform="translate(433.8,58) rotate(-90)" font-size="10.5" fill="#767676" stroke="#767676" stroke-width="0.15" text-anchor="middle">RBDkappa</text>
<circle cx="518.6" cy="20" r="2.95" fill="#4472C4"/>
<circle cx="515" cy="26.6" r="2.95" fill="#4472C4"/>
<circle cx="496.6" cy="40" r="2.95" fill="#4472C4"/>
<circle cx="505.6" cy="37" r="2.95" fill="#4472C4"/>
<circle cx="506.4" cy="39" r="2.95" fill="#4472C4"/>
<circle cx="509.6" cy="42" r="2.95" fill="#4472C4"/>
<circle cx="519" cy="39" r="2.95" fill="#4472C4"/>
<circle cx="528.6" cy="52" r="2.95" fill="#4472C4"/>
<circle cx="512.4" cy="53.6" r="2.95" fill="#4472C4"/>
<circle cx="517" cy="55.6" r="2.95" fill="#4472C4"/>
<circle cx="483.6" cy="52.4" r="2.95" fill="#4472C4"/>
<circle cx="498.6" cy="53.6" r="2.95" fill="#4472C4"/>
<circle cx="474" cy="58.4" r="2.95" fill="#4472C4"/>
<circle cx="481" cy="59" r="2.95" fill="#4472C4"/>
<circle cx="487" cy="60" r="2.95" fill="#4472C4"/>
<circle cx="487.6" cy="66" r="2.95" fill="#4472C4"/>
<circle cx="500.4" cy="64" r="2.95" fill="#4472C4"/>
<circle cx="500" cy="70" r="2.95" fill="#4472C4"/>
<circle cx="473" cy="64" r="2.95" fill="#4472C4"/>
<circle cx="475" cy="67" r="2.95" fill="#4472C4"/>
<circle cx="477" cy="69" r="2.95" fill="#4472C4"/>
<circle cx="481" cy="68" r="2.95" fill="#4472C4"/>
<circle cx="482" cy="70" r="2.95" fill="#4472C4"/>
<circle cx="458" cy="74.4" r="2.95" fill="#4472C4"/>
<circle cx="466" cy="75" r="2.95" fill="#4472C4"/>
<circle cx="470" cy="73.6" r="2.95" fill="#4472C4"/>
<circle cx="468" cy="74.4" r="2.95" fill="#4472C4"/>
<circle cx="461.6" cy="80" r="2.95" fill="#4472C4"/>
<circle cx="466" cy="79" r="2.95" fill="#4472C4"/>
<circle cx="481" cy="79" r="2.95" fill="#4472C4"/>
<circle cx="482" cy="81" r="2.95" fill="#4472C4"/>
<circle cx="478" cy="65" r="2.95" fill="#4472C4"/>
<circle cx="476" cy="69" r="2.95" fill="#4472C4"/>
<circle cx="482" cy="66" r="2.95" fill="#4472C4"/>
<circle cx="488" cy="67" r="2.95" fill="#4472C4"/>
<circle cx="466" cy="86" r="2.95" fill="#4472C4"/>
<circle cx="464" cy="88" r="2.95" fill="#4472C4"/>
<circle cx="468" cy="89" r="2.95" fill="#4472C4"/>
<circle cx="461" cy="92" r="2.95" fill="#4472C4"/>
<circle cx="456" cy="93" r="2.95" fill="#4472C4"/>
<circle cx="454" cy="92" r="2.95" fill="#4472C4"/>
<circle cx="459" cy="94" r="2.95" fill="#4472C4"/>
<circle cx="453" cy="97" r="2.95" fill="#4472C4"/>
<circle cx="452" cy="99" r="2.95" fill="#4472C4"/>
<circle cx="453" cy="101" r="2.95" fill="#4472C4"/>
<circle cx="462" cy="95" r="2.95" fill="#4472C4"/>
<circle cx="465" cy="93" r="2.95" fill="#4472C4"/>
<line x1="452" y1="92.4" x2="538.6" y2="19.8" stroke="#111" stroke-width="1.4" stroke-dasharray="1.3 1.3"/>
<text x="455.6" y="27.4" font-size="11.2" fill="#1a1a1a" stroke="#1a1a1a" stroke-width="0.2" textLength="38.2" lengthAdjust="spacingAndGlyphs">r = 0.88</text>
<rect x="451" y="139.6" width="92.0" height="85.4" fill="#fff" stroke="#d9d9d9" stroke-width="1.2"/>
<text x="439" y="143.6" font-size="10.5" fill="#767676" stroke="#767676" stroke-width="0.15" text-anchor="end">1.4</text>
<text x="439" y="229" font-size="10.5" fill="#767676" stroke="#767676" stroke-width="0.15" text-anchor="end">0</text>
<text x="451" y="245.6" font-size="10.5" fill="#767676" stroke="#767676" stroke-width="0.15" text-anchor="middle">0</text>
<text x="496.7" y="245.6" font-size="10.5" fill="#767676" stroke="#767676" stroke-width="0.15" text-anchor="middle">RBDwt</text>
<text x="542.5" y="245.6" font-size="10.5" fill="#767676" stroke="#767676" stroke-width="0.15" text-anchor="middle">1</text>
<text transform="translate(435.8,182.5) rotate(-90)" font-size="10.5" fill="#767676" stroke="#767676" stroke-width="0.15" text-anchor="middle">RBDdelta</text>
<circle cx="510" cy="153" r="2.95" fill="#4472C4"/>
<circle cx="536.6" cy="151.6" r="2.95" fill="#4472C4"/>
<circle cx="529" cy="163" r="2.95" fill="#4472C4"/>
<circle cx="519.6" cy="168" r="2.95" fill="#4472C4"/>
<circle cx="518" cy="170" r="2.95" fill="#4472C4"/>
<circle cx="507.6" cy="174" r="2.95" fill="#4472C4"/>
<circle cx="499.4" cy="169.6" r="2.95" fill="#4472C4"/>
<circle cx="482.6" cy="173" r="2.95" fill="#4472C4"/>
<circle cx="474" cy="178" r="2.95" fill="#4472C4"/>
<circle cx="503.6" cy="179.6" r="2.95" fill="#4472C4"/>
<circle cx="472.6" cy="185" r="2.95" fill="#4472C4"/>
<circle cx="479.4" cy="185" r="2.95" fill="#4472C4"/>
<circle cx="487.6" cy="185" r="2.95" fill="#4472C4"/>
<circle cx="495" cy="184.4" r="2.95" fill="#4472C4"/>
<circle cx="499" cy="187" r="2.95" fill="#4472C4"/>
<circle cx="494" cy="188" r="2.95" fill="#4472C4"/>
<circle cx="510" cy="186.4" r="2.95" fill="#4472C4"/>
<circle cx="483" cy="191" r="2.95" fill="#4472C4"/>
<circle cx="481" cy="193" r="2.95" fill="#4472C4"/>
<circle cx="482" cy="195" r="2.95" fill="#4472C4"/>
<circle cx="508" cy="193" r="2.95" fill="#4472C4"/>
<circle cx="465.6" cy="197.6" r="2.95" fill="#4472C4"/>
<circle cx="485.6" cy="199" r="2.95" fill="#4472C4"/>
<circle cx="496" cy="196" r="2.95" fill="#4472C4"/>
<circle cx="498" cy="198" r="2.95" fill="#4472C4"/>
<circle cx="480" cy="193.6" r="2.95" fill="#4472C4"/>
<circle cx="485" cy="199.6" r="2.95" fill="#4472C4"/>
<circle cx="497" cy="197" r="2.95" fill="#4472C4"/>
<circle cx="499" cy="198.4" r="2.95" fill="#4472C4"/>
<circle cx="477" cy="212.4" r="2.95" fill="#4472C4"/>
<circle cx="486.4" cy="209" r="2.95" fill="#4472C4"/>
<circle cx="496" cy="207.6" r="2.95" fill="#4472C4"/>
<circle cx="456" cy="211.6" r="2.95" fill="#4472C4"/>
<circle cx="460" cy="212" r="2.95" fill="#4472C4"/>
<circle cx="457.6" cy="215" r="2.95" fill="#4472C4"/>
<circle cx="458.4" cy="216" r="2.95" fill="#4472C4"/>
<line x1="456" y1="210.6" x2="536.6" y2="160" stroke="#111" stroke-width="1.4" stroke-dasharray="1.3 1.3"/>
<text x="455.6" y="149.4" font-size="11.2" fill="#1a1a1a" stroke="#1a1a1a" stroke-width="0.2" textLength="38.2" lengthAdjust="spacingAndGlyphs">r = 0.76</text>
<rect x="452" y="264" width="86.0" height="91.4" fill="#fff" stroke="#d9d9d9" stroke-width="1.2"/>
<text x="440" y="267.6" font-size="10.5" fill="#767676" stroke="#767676" stroke-width="0.15" text-anchor="end">0.5</text>
<text x="440" y="359.6" font-size="10.5" fill="#767676" stroke="#767676" stroke-width="0.15" text-anchor="end">0</text>
<text x="452" y="376.4" font-size="10.5" fill="#767676" stroke="#767676" stroke-width="0.15" text-anchor="middle">0</text>
<text x="497.7" y="376.4" font-size="10.5" fill="#767676" stroke="#767676" stroke-width="0.15" text-anchor="middle">RBDwt</text>
<text x="539.3" y="376.4" font-size="10.5" fill="#767676" stroke="#767676" stroke-width="0.15" text-anchor="middle">1.4</text>
<text transform="translate(436.3,309.5) rotate(-90)" font-size="10.5" fill="#767676" stroke="#767676" stroke-width="0.15" text-anchor="middle">RBDomicron</text>
<circle cx="536.4" cy="268" r="2.95" fill="#4472C4"/>
<circle cx="505" cy="277.6" r="2.95" fill="#4472C4"/>
<circle cx="510" cy="280" r="2.95" fill="#4472C4"/>
<circle cx="485" cy="292" r="2.95" fill="#4472C4"/>
<circle cx="498" cy="292" r="2.95" fill="#4472C4"/>
<circle cx="499" cy="295" r="2.95" fill="#4472C4"/>
<circle cx="492.4" cy="305" r="2.95" fill="#4472C4"/>
<circle cx="467" cy="311.6" r="2.95" fill="#4472C4"/>
<circle cx="471" cy="311.6" r="2.95" fill="#4472C4"/>
<circle cx="473" cy="317" r="2.95" fill="#4472C4"/>
<circle cx="476.6" cy="322.4" r="2.95" fill="#4472C4"/>
<circle cx="482.4" cy="320" r="2.95" fill="#4472C4"/>
<circle cx="491" cy="323.6" r="2.95" fill="#4472C4"/>
<circle cx="492.4" cy="327" r="2.95" fill="#4472C4"/>
<circle cx="484.4" cy="328.4" r="2.95" fill="#4472C4"/>
<circle cx="484.4" cy="334" r="2.95" fill="#4472C4"/>
<circle cx="462" cy="333" r="2.95" fill="#4472C4"/>
<circle cx="456" cy="339" r="2.95" fill="#4472C4"/>
<circle cx="457" cy="344" r="2.95" fill="#4472C4"/>
<circle cx="455" cy="345" r="2.95" fill="#4472C4"/>
<circle cx="469.6" cy="340.4" r="2.95" fill="#4472C4"/>
<circle cx="472.4" cy="346" r="2.95" fill="#4472C4"/>
<circle cx="476" cy="344" r="2.95" fill="#4472C4"/>
<circle cx="482" cy="341" r="2.95" fill="#4472C4"/>
<circle cx="487.6" cy="342.4" r="2.95" fill="#4472C4"/>
<circle cx="495" cy="340.4" r="2.95" fill="#4472C4"/>
<circle cx="471.6" cy="352" r="2.95" fill="#4472C4"/>
<circle cx="475" cy="352" r="2.95" fill="#4472C4"/>
<circle cx="486" cy="349" r="2.95" fill="#4472C4"/>
<circle cx="491" cy="352" r="2.95" fill="#4472C4"/>
<line x1="455" y1="349" x2="536" y2="275" stroke="#111" stroke-width="1.4" stroke-dasharray="1.3 1.3"/>
<text x="455.6" y="277" font-size="11.2" fill="#1a1a1a" stroke="#1a1a1a" stroke-width="0.2" textLength="38.2" lengthAdjust="spacingAndGlyphs">r = 0.67</text>
</svg>
</body></html>
